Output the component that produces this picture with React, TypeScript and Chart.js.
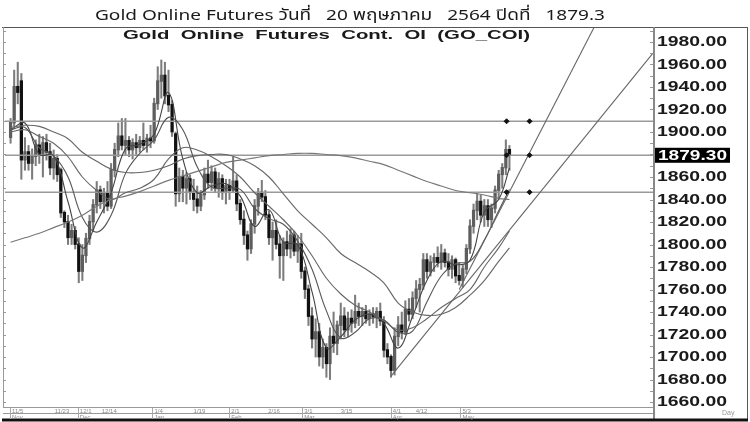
import { useEffect, useRef } from 'react';
import { Chart, registerables } from 'chart.js';

Chart.register(...registerables);

const titleText = 'Gold Online Futures วันที่   20 พฤษภาคม   2564 ปิดที่   1879.3';
const panelTitle = 'Gold  Online  Futures  Cont.  OI  (GO_COI)';

const opens = [
  1895, 1908, 1940, 1945, 1875, 1882, 1872, 1878, 1888, 1880,
  1890, 1882, 1868, 1876, 1866, 1828, 1820, 1806, 1812, 1800,
  1776, 1790, 1805, 1820, 1835, 1848, 1838, 1845, 1834, 1866,
  1884, 1896, 1888, 1892, 1884, 1890, 1886, 1892, 1888, 1894,
  1892, 1925, 1945, 1950, 1932, 1924, 1898, 1845, 1860, 1850,
  1858, 1846, 1840, 1834, 1844, 1862, 1855, 1864, 1850, 1858,
  1846, 1852, 1848, 1856, 1836, 1822, 1808, 1796, 1818, 1834,
  1846, 1842, 1826, 1806, 1812, 1800, 1790, 1802, 1796, 1808,
  1794, 1800, 1776, 1760, 1736, 1716, 1722, 1700, 1708, 1694,
  1718, 1712, 1728, 1736, 1724, 1734, 1730, 1740, 1736, 1740,
  1734, 1738, 1736, 1740, 1732, 1706, 1700, 1688, 1718, 1728,
  1722, 1742, 1738, 1752, 1760, 1764, 1786, 1776, 1784, 1788,
  1784, 1792, 1784, 1778, 1786, 1772, 1768, 1778, 1796, 1816,
  1830, 1838, 1826, 1834, 1822, 1832, 1848, 1862, 1868, 1884,
];
const highs = [
  1912, 1955, 1962, 1952, 1895, 1888, 1885, 1893, 1898, 1896,
  1898, 1890, 1884, 1880, 1868, 1830, 1826, 1818, 1816, 1806,
  1800, 1810, 1826, 1840, 1856, 1852, 1850, 1856, 1872, 1890,
  1908, 1912, 1912, 1896, 1894, 1898, 1896, 1908, 1898, 1906,
  1930, 1958, 1964, 1962, 1955, 1928, 1900, 1868, 1866, 1864,
  1862, 1858, 1852, 1848, 1868, 1875, 1870, 1868, 1864, 1862,
  1858, 1858, 1878, 1862, 1840, 1830, 1812, 1822, 1840, 1850,
  1857, 1848, 1830, 1820, 1822, 1808, 1806, 1812, 1814, 1812,
  1808, 1810, 1780, 1764, 1744, 1734, 1730, 1716, 1712, 1726,
  1740, 1732, 1748, 1744, 1740, 1742, 1755, 1748, 1744, 1746,
  1742, 1744, 1744, 1748, 1736, 1712, 1702, 1726, 1736, 1740,
  1750, 1752, 1758, 1768, 1770, 1792, 1792, 1790, 1792, 1798,
  1800, 1796, 1792, 1790, 1788, 1784, 1782, 1800, 1822, 1836,
  1846, 1844, 1840, 1840, 1836, 1852, 1866, 1872, 1893, 1888,
];
const lows = [
  1890, 1905, 1925, 1858, 1866, 1866, 1858, 1870, 1872, 1860,
  1875, 1862, 1858, 1856, 1824, 1815, 1800, 1800, 1796, 1766,
  1768, 1784, 1800, 1812, 1828, 1832, 1828, 1830, 1832, 1860,
  1878, 1884, 1880, 1878, 1876, 1880, 1882, 1884, 1882, 1886,
  1890, 1920, 1930, 1925, 1918, 1896, 1834, 1838, 1838, 1836,
  1840, 1830, 1828, 1830, 1840, 1850, 1848, 1846, 1842, 1840,
  1836, 1840, 1846, 1830, 1818, 1800, 1786, 1792, 1810, 1826,
  1838, 1822, 1800, 1786, 1796, 1770, 1768, 1790, 1788, 1790,
  1784, 1770, 1752, 1728, 1708, 1700, 1692, 1690, 1682, 1680,
  1704, 1702, 1716, 1718, 1718, 1722, 1726, 1728, 1728, 1730,
  1728, 1730, 1726, 1728, 1700, 1694, 1682, 1684, 1710, 1716,
  1720, 1732, 1734, 1744, 1740, 1760, 1770, 1772, 1776, 1780,
  1778, 1780, 1772, 1770, 1766, 1764, 1762, 1774, 1792, 1810,
  1822, 1820, 1816, 1816, 1815, 1828, 1840, 1850, 1862, 1866,
];
const closes = [
  1908, 1940, 1935, 1875, 1882, 1872, 1878, 1888, 1880, 1890,
  1882, 1868, 1876, 1862, 1828, 1820, 1806, 1812, 1800, 1776,
  1790, 1805, 1820, 1835, 1848, 1838, 1845, 1834, 1866, 1884,
  1896, 1888, 1892, 1884, 1890, 1886, 1892, 1888, 1894, 1892,
  1925, 1945, 1950, 1932, 1924, 1900, 1845, 1860, 1850, 1858,
  1846, 1840, 1834, 1844, 1862, 1855, 1864, 1850, 1858, 1846,
  1852, 1848, 1856, 1836, 1822, 1808, 1796, 1818, 1834, 1846,
  1842, 1826, 1806, 1812, 1800, 1790, 1802, 1796, 1808, 1794,
  1800, 1776, 1760, 1736, 1716, 1722, 1700, 1708, 1694, 1718,
  1712, 1728, 1736, 1724, 1734, 1730, 1740, 1736, 1740, 1734,
  1738, 1736, 1740, 1732, 1706, 1700, 1688, 1718, 1728, 1722,
  1742, 1738, 1752, 1760, 1764, 1786, 1776, 1784, 1788, 1784,
  1792, 1784, 1778, 1786, 1772, 1768, 1778, 1796, 1816, 1830,
  1838, 1826, 1834, 1822, 1832, 1848, 1862, 1868, 1884, 1879.3,
];

// moving-average lines, sampled at these bar indices
const maIdx = [0, 4, 8, 12, 16, 20, 24, 28, 32, 36, 40, 44, 48, 52, 56, 60, 64, 68, 72, 76, 80, 84, 88, 92, 96, 100, 104, 108, 112, 116, 120, 124, 128, 132, 136, 139];
const ma5 = [1902, 1908, 1880, 1879, 1838, 1797, 1820, 1846, 1885, 1889, 1898, 1935, 1876, 1846, 1852, 1854, 1843, 1816, 1831, 1802, 1800, 1758, 1708, 1718, 1733, 1738, 1730, 1708, 1736, 1768, 1785, 1782, 1786, 1829, 1840, 1868];
const ma10 = [1902, 1904, 1886, 1879, 1860, 1824, 1811, 1826, 1863, 1881, 1893, 1913, 1902, 1869, 1851, 1850, 1849, 1832, 1823, 1818, 1803, 1778, 1741, 1717, 1722, 1734, 1733, 1722, 1723, 1749, 1772, 1783, 1785, 1804, 1830, 1849];
const ma25 = [1900, 1902, 1896, 1890, 1878, 1860, 1848, 1840, 1846, 1850, 1858, 1876, 1886, 1884, 1878, 1870, 1860, 1846, 1834, 1822, 1808, 1790, 1770, 1756, 1746, 1740, 1732, 1724, 1726, 1734, 1744, 1752, 1760, 1780, 1797, 1812];
const ma50 = [1904, 1906, 1905, 1900, 1894, 1882, 1874, 1867, 1864, 1864, 1866, 1870, 1876, 1879, 1880, 1880, 1876, 1870, 1860, 1845, 1830, 1818, 1806, 1792, 1784, 1776, 1766, 1748, 1740, 1737, 1738, 1744, 1755, 1768, 1785, 1797];
const ma200 = [1802, 1806, 1810, 1815, 1820, 1826, 1834, 1840, 1843, 1847, 1852, 1857, 1861, 1865, 1869, 1873, 1875, 1877, 1879, 1880, 1881, 1881, 1880, 1879, 1877, 1874, 1871, 1866, 1861, 1856, 1852, 1848, 1846, 1844, 1841, 1840];

const levelValues = [1909.5, 1879.3, 1846.5];
const dotIdx = [138.2, 144.6];
const trendAX = [125, 165];
const trendAY = [1760, 2008];
const trendBX = [106, 179];
const trendBY = [1683, 1970];

const yTickLabels = [1660, 1680, 1700, 1720, 1740, 1760, 1780, 1800, 1820, 1840, 1860, 1900, 1920, 1940, 1960, 1980];
const lastPrice = 1879.3;

const dayIdx = [0.4, 12.3, 19.3, 25.4, 40.1, 51, 61.5, 71.8, 81.8, 92, 106.5, 112.9, 125.9];
const dayLabels = ['11/5', '11/23', '12/1', '12/14', '1/4', '1/19', '2/1', '2/16', '3/1', '3/15', '4/1', '4/12', '5/3'];
const monthIdx = [0.4, 19.3, 40.1, 61.5, 81.8, 106.5, 125.9];
const monthLabels = ['Nov', 'Dec', 'Jan', 'Feb', 'Mar', 'Apr', 'May'];

const X_MIN = -1.556;
const X_MAX = 179;
const Y_MIN = 1655.6;
const Y_MAX = 1993.3;

function fitText(ctx: CanvasRenderingContext2D, text: string, x: number, y: number, width: number, font: string) {
  ctx.save();
  ctx.font = font;
  ctx.textAlign = 'left';
  ctx.textBaseline = 'middle';
  const w = ctx.measureText(text).width;
  const s = w > 0 ? width / w : 1;
  ctx.translate(x, y);
  ctx.scale(s, 1);
  ctx.fillText(text, 0, 0);
  ctx.restore();
}

function hLine(ctx: CanvasRenderingContext2D, x1: number, x2: number, y: number) {
  ctx.beginPath();
  ctx.moveTo(x1, y);
  ctx.lineTo(x2, y);
  ctx.stroke();
}
function vLine(ctx: CanvasRenderingContext2D, x: number, y1: number, y2: number) {
  ctx.beginPath();
  ctx.moveTo(x, y1);
  ctx.lineTo(x, y2);
  ctx.stroke();
}

const overlay = {
  id: 'overlay',
  beforeDraw(chart: any) {
    const ctx = chart.ctx;
    ctx.save();
    ctx.fillStyle = '#ffffff';
    ctx.fillRect(0, 0, chart.width, chart.height);
    ctx.restore();
  },
  afterDraw(chart: any) {
    const ctx: CanvasRenderingContext2D = chart.ctx;
    const ys = chart.scales.y;
    const xs = chart.scales.x;
    const ca = chart.chartArea;
    ctx.save();

    // titles
    ctx.fillStyle = '#1a1a1a';
    fitText(ctx, titleText, 95, 17, 510, '15px "Noto Sans Thai", "Noto Sans", "DejaVu Sans", sans-serif');
    fitText(ctx, panelTitle, 123, 35, 407, 'bold 13px "Liberation Sans", Arial, sans-serif');

    // frame
    ctx.strokeStyle = '#555';
    ctx.lineWidth = 1;
    hLine(ctx, 2, 748, 27.5);
    ctx.strokeStyle = '#999';
    vLine(ctx, 3.5, 27, ca.bottom);
    hLine(ctx, 3, ca.right, ca.bottom + 0.5);
    hLine(ctx, 3, ca.right, 413.5);
    ctx.strokeStyle = '#888';
    ctx.lineWidth = 2;
    vLine(ctx, ca.right + 1, 27, 421);
    ctx.lineWidth = 1;
    ctx.strokeStyle = '#555';
    vLine(ctx, 747.5, 27, 421);
    ctx.strokeStyle = '#111';
    ctx.lineWidth = 3;
    hLine(ctx, 2, 748, 420);

    // minor ticks
    ctx.lineWidth = 1;
    ctx.strokeStyle = '#999';
    for (let v = 1660; v <= 1990; v += 10) {
      const py = Math.round(ys.getPixelForValue(v)) + 0.5;
      hLine(ctx, 3, 6, py);
      hLine(ctx, ca.right - 3, ca.right, py);
    }

    // right price labels
    ctx.fillStyle = '#1a1a1a';
    for (const v of yTickLabels) {
      const py = ys.getPixelForValue(v);
      fitText(ctx, v.toFixed(2), 657, py, 70, 'bold 15px "Liberation Sans", Arial, sans-serif');
    }
    const lp = ys.getPixelForValue(lastPrice);
    ctx.fillStyle = '#000';
    ctx.fillRect(655, lp - 7.5, 75, 15);
    ctx.fillStyle = '#fff';
    fitText(ctx, lastPrice.toFixed(2), 658, lp + 0.5, 69, 'bold 15px "Liberation Sans", Arial, sans-serif');

    // date labels
    ctx.fillStyle = '#888';
    ctx.font = '6px "Liberation Sans", Arial, sans-serif';
    ctx.textAlign = 'left';
    ctx.textBaseline = 'middle';
    dayIdx.forEach((d, k) => {
      const px = xs.getPixelForValue(d);
      ctx.fillText(dayLabels[k], px, 411);
    });
    monthIdx.forEach((d, k) => {
      const px = xs.getPixelForValue(d);
      ctx.fillText(monthLabels[k], px, 417);
      ctx.strokeStyle = '#aaa';
      vLine(ctx, Math.round(px) - 1.5, 408, 419);
    });
    ctx.fillStyle = '#999';
    ctx.font = '7px "Liberation Sans", Arial, sans-serif';
    ctx.fillText('Day', 722, 413);

    ctx.restore();
  },
};

export default function App() {
  const ref = useRef<HTMLCanvasElement | null>(null);

  useEffect(() => {
    document.body.style.margin = '0';
    const canvas = ref.current;
    if (!canvas) return;
    const idx = closes.map((_, i) => i);
    const wickData = idx.map((i) => ({ x: i, y: [lows[i], highs[i]] }));
    const bodyData = idx.map((i) => ({ x: i, y: [Math.min(opens[i], closes[i]), Math.max(opens[i], closes[i]) + 0.6] }));
    const bodyColors = idx.map((i) => (closes[i] >= opens[i] ? '#5e5e5e' : '#111111'));

    const maLine = (vals: number[], color: string, width: number) => ({
      type: 'line' as const,
      data: maIdx.map((x, k) => ({ x, y: vals[k] })),
      borderColor: color,
      borderWidth: width,
      pointRadius: 0,
      tension: 0.4,
      fill: false,
      order: 2,
    });

    const levelSets = levelValues.map((v) => ({
      type: 'line' as const,
      data: [{ x: X_MIN, y: v }, { x: X_MAX, y: v }],
      borderColor: '#9a9a9a',
      borderWidth: 1.6,
      pointRadius: 0,
      fill: false,
      order: 5,
    }));

    const dotData: { x: number; y: number }[] = [];
    levelValues.forEach((v) => dotIdx.forEach((d) => dotData.push({ x: d, y: v })));

    const chart = new Chart(canvas, {
      type: 'bar',
      data: {
        datasets: [
          ...levelSets,
          {
            type: 'bar',
            data: wickData as any,
            backgroundColor: '#7c7c7c',
            barThickness: 1.4,
            grouped: false,
            borderWidth: 0,
            order: 10,
          } as any,
          {
            type: 'bar',
            data: bodyData as any,
            backgroundColor: bodyColors,
            barThickness: 2.6,
            grouped: false,
            borderWidth: 0,
            order: 9,
          } as any,
          maLine(ma200, '#777', 1.1),
          maLine(ma50, '#666', 1.1),
          maLine(ma25, '#666', 1.1),
          maLine(ma10, '#555', 1.1),
          maLine(ma5, '#444', 1.1),
          {
            type: 'line',
            data: trendAX.map((x, k) => ({ x, y: trendAY[k] })),
            borderColor: '#666',
            borderWidth: 1.1,
            pointRadius: 0,
            fill: false,
            order: 1,
          },
          {
            type: 'line',
            data: trendBX.map((x, k) => ({ x, y: trendBY[k] })),
            borderColor: '#666',
            borderWidth: 1.1,
            pointRadius: 0,
            fill: false,
            order: 1,
          },
          {
            type: 'line',
            data: dotData,
            showLine: false,
            pointStyle: 'rectRot',
            pointRadius: 2.5,
            pointBackgroundColor: '#111',
            pointBorderColor: '#111',
            order: 0,
          },
        ] as any,
      },
      options: {
        responsive: false,
        animation: false,
        devicePixelRatio: 1,
        events: [],
        layout: { padding: { left: 3, right: 97, top: 27, bottom: 15 } },
        plugins: {
          legend: { display: false },
          tooltip: { enabled: false },
          title: { display: false },
        },
        scales: {
          x: { type: 'linear', min: X_MIN, max: X_MAX, display: false, offset: false, grid: { display: false } },
          y: { type: 'linear', min: Y_MIN, max: Y_MAX, display: false, grid: { display: false } },
        },
      } as any,
      plugins: [overlay],
    });
    return () => chart.destroy();
  }, []);

  return (
    <div style={{ width: 750, height: 422 }}>
      <canvas ref={ref} width={750} height={422} style={{ display: 'block' }} />
    </div>
  );
}
